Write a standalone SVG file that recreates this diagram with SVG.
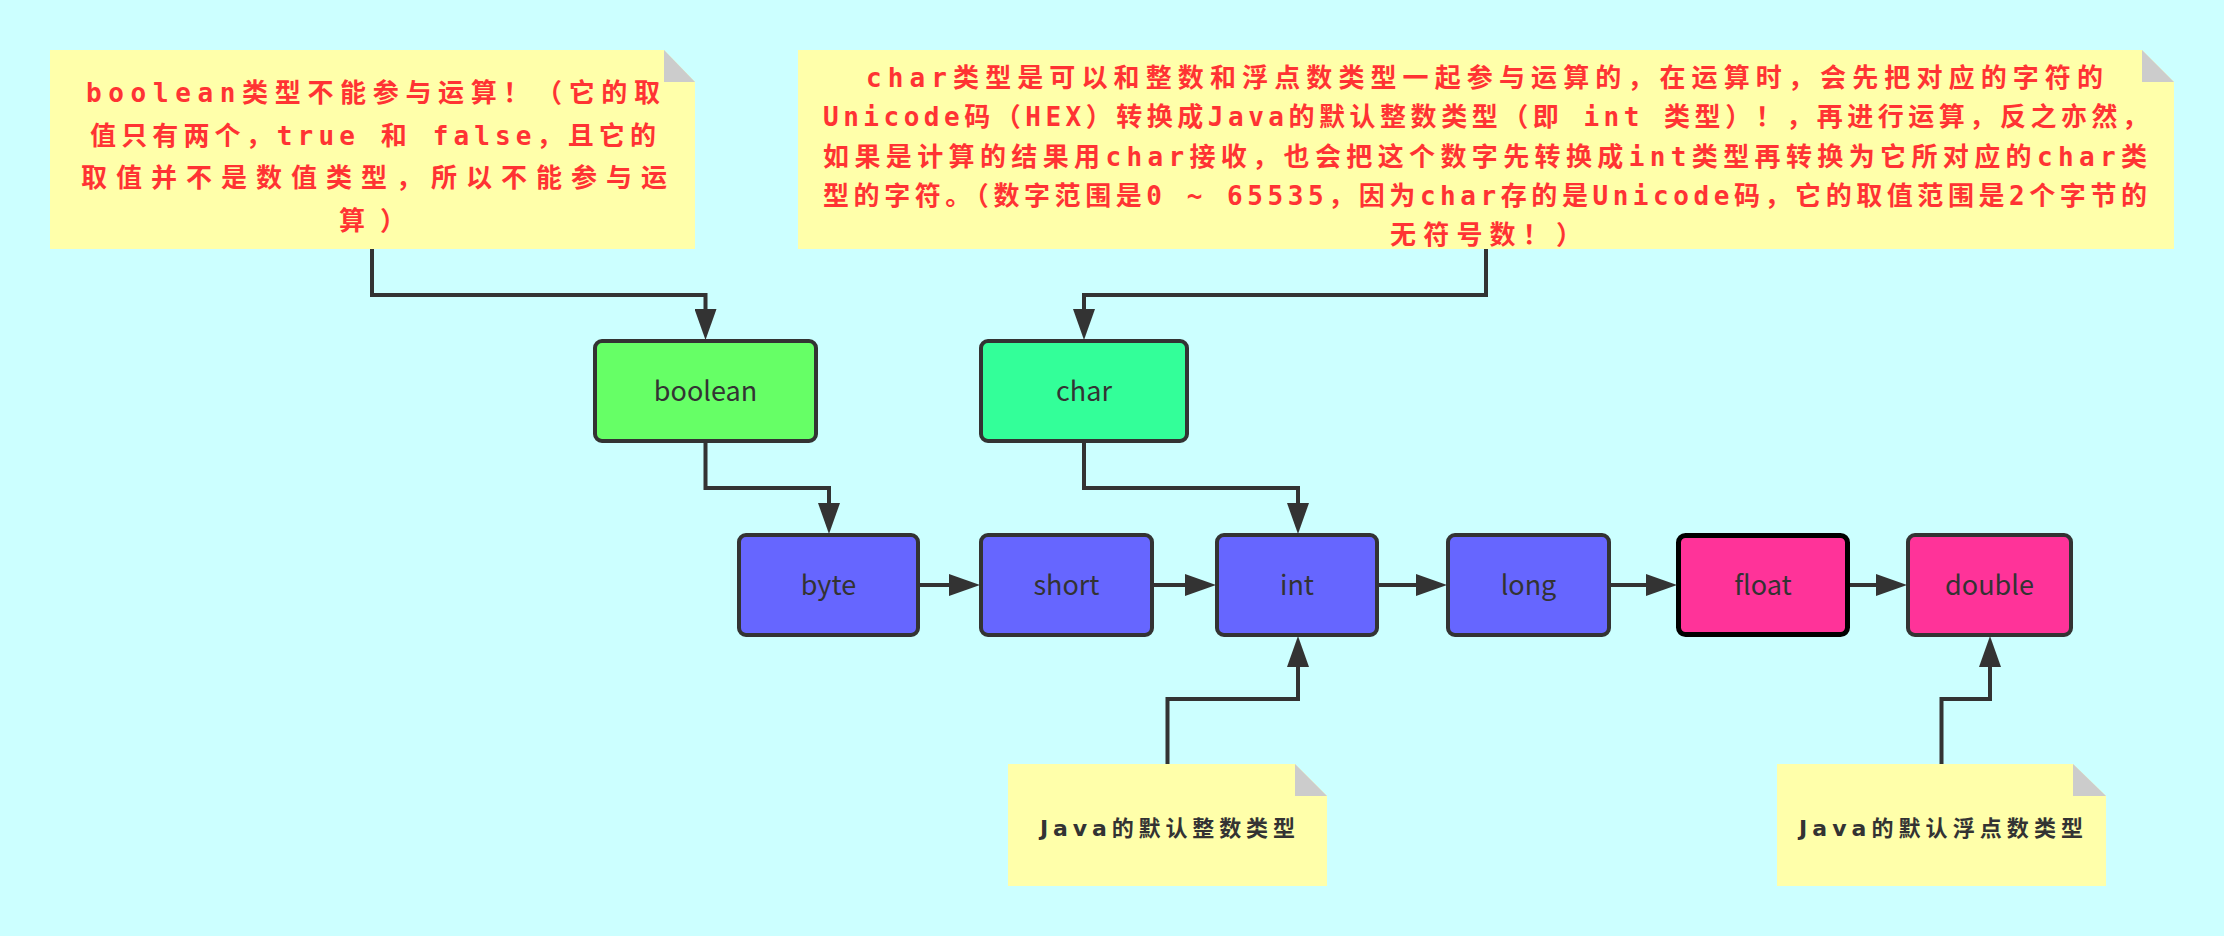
<svg xmlns="http://www.w3.org/2000/svg" width="2224" height="936" viewBox="0 0 2224 936">
<style>
.note{fill:#FFFFAA;stroke:none}
.fold{fill:#CCCCCC;stroke:none}
.nt{font-family:"DejaVu Sans Mono","Noto Sans CJK SC",monospace;font-size:26px;font-weight:bold;fill:#FF3333}
.jt{font-family:"DejaVu Sans","Noto Sans CJK SC",sans-serif;font-size:22px;font-weight:bold;fill:#333333}
.box{stroke:#333333;stroke-width:4}
.bt{font-family:"Noto Sans CJK SC","Noto Sans",sans-serif;font-size:27px;fill:#333333;text-anchor:middle}
.conn{fill:none;stroke:#333333;stroke-width:4}
</style>
<defs>
<marker id="arr" markerUnits="userSpaceOnUse" markerWidth="32" markerHeight="22" refX="10" refY="11" orient="auto">
<path d="M0,0 L31,11 L0,22 Z" fill="#333333"/>
</marker>
</defs>
<rect x="0" y="0" width="2224" height="936" fill="#CCFFFF"/>

<g id="note-boolean">
<polygon class="note" points="50,50 664,50 695,82 695,249 50,249"/>
<polygon class="fold" points="664,50 695,82 664,82"/>
<text class="nt" x="86" y="102" textLength="574" lengthAdjust="spacing">boolean类型不能参与运算！（它的取</text>
<text class="nt" x="90" y="144.5" textLength="566" lengthAdjust="spacing">值只有两个，true 和 false，且它的</text>
<text class="nt" x="81" y="187" textLength="586" lengthAdjust="spacing">取值并不是数值类型，所以不能参与运</text>
<text class="nt" x="339" y="229.5" textLength="67" lengthAdjust="spacing">算）</text>
</g>

<g id="note-char">
<polygon class="note" points="798,50 2142,50 2174,82 2174,249 798,249"/>
<polygon class="fold" points="2142,50 2174,82 2142,82"/>
<text class="nt" x="866" y="86.5" textLength="1237" lengthAdjust="spacing">char类型是可以和整数和浮点数类型一起参与运算的，在运算时，会先把对应的字符的</text>
<text class="nt" x="823" y="126" textLength="1325" lengthAdjust="spacing">Unicode码（HEX）转换成Java的默认整数类型（即 int 类型）！，再进行运算，反之亦然，</text>
<text class="nt" x="823" y="165.5" textLength="1324" lengthAdjust="spacing">如果是计算的结果用char接收，也会把这个数字先转换成int类型再转换为它所对应的char类</text>
<text class="nt" x="823" y="205" textLength="1324" lengthAdjust="spacing">型的字符。（数字范围是0 ~ 65535，因为char存的是Unicode码，它的取值范围是2个字节的</text>
<text class="nt" x="1390" y="244" textLength="192" lengthAdjust="spacing">无符号数！）</text>
</g>

<g id="node-boolean">
<rect class="box" x="595" y="341" width="221" height="100" rx="7" fill="#66FF66"/>
<text class="bt" x="705.5" y="401">boolean</text>
</g>
<g id="node-char">
<rect class="box" x="981" y="341" width="206" height="100" rx="7" fill="#33FF99"/>
<text class="bt" x="1084" y="401">char</text>
</g>
<g id="node-byte">
<rect class="box" x="739" y="535" width="179" height="100" rx="7" fill="#6666FF"/>
<text class="bt" x="828.5" y="595">byte</text>
</g>
<g id="node-short">
<rect class="box" x="981" y="535" width="171" height="100" rx="7" fill="#6666FF"/>
<text class="bt" x="1066.5" y="595">short</text>
</g>
<g id="node-int">
<rect class="box" x="1217" y="535" width="160" height="100" rx="7" fill="#6666FF"/>
<text class="bt" x="1297" y="595">int</text>
</g>
<g id="node-long">
<rect class="box" x="1448" y="535" width="161" height="100" rx="7" fill="#6666FF"/>
<text class="bt" x="1528.5" y="595">long</text>
</g>
<g id="node-float">
<rect x="1678.5" y="535.5" width="169" height="99" rx="7" fill="#FF3399" stroke="#000000" stroke-width="5"/>
<text class="bt" x="1763" y="595">float</text>
</g>
<g id="node-double">
<rect class="box" x="1908" y="535" width="163" height="100" rx="7" fill="#FF3399"/>
<text class="bt" x="1989.5" y="595">double</text>
</g>

<g id="note-int">
<polygon class="note" points="1008,764 1295,764 1327,796 1327,886 1008,886"/>
<polygon class="fold" points="1295,764 1327,796 1295,796"/>
<text class="jt" x="1040" y="836" textLength="255" lengthAdjust="spacing">Java的默认整数类型</text>
</g>
<g id="note-double">
<polygon class="note" points="1777,764 2073,764 2106,796 2106,886 1777,886"/>
<polygon class="fold" points="2073,764 2106,796 2073,796"/>
<text class="jt" x="1799" y="836" textLength="284" lengthAdjust="spacing">Java的默认浮点数类型</text>
</g>

<g id="connectors">
<path class="conn" marker-end="url(#arr)" d="M372,249 V295 H705.5 V319"/>
<path class="conn" marker-end="url(#arr)" d="M1486,249 V295 H1084 V319"/>
<path class="conn" marker-end="url(#arr)" d="M705.5,443 V488 H829 V513"/>
<path class="conn" marker-end="url(#arr)" d="M1084,443 V488 H1298 V513"/>
<path class="conn" marker-end="url(#arr)" d="M920,585 H959"/>
<path class="conn" marker-end="url(#arr)" d="M1154,585 H1195"/>
<path class="conn" marker-end="url(#arr)" d="M1379,585 H1426"/>
<path class="conn" marker-end="url(#arr)" d="M1611,585 H1656"/>
<path class="conn" marker-end="url(#arr)" d="M1850,585 H1886"/>
<path class="conn" marker-end="url(#arr)" d="M1167.5,764 V699 H1298 V657"/>
<path class="conn" marker-end="url(#arr)" d="M1941.5,764 V699 H1990 V657"/>
</g>
</svg>
